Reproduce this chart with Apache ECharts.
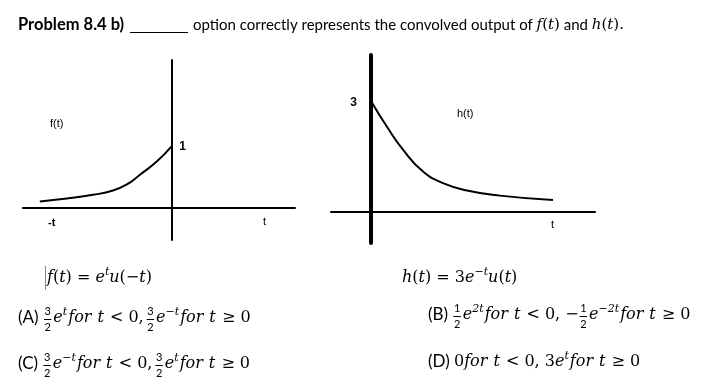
<!DOCTYPE html>
<html lang="en">
<head>
<meta charset="UTF-8">
<title>Problem 8.4 b)</title>
<script src="https://cdn.jsdelivr.net/npm/echarts@6/dist/echarts.min.js"></script>
<style>
  html, body { margin: 0; padding: 0; background: #fff; }
  #chart { width: 713px; height: 383px; }
</style>
</head>
<body>
<div id="chart"></div>
<script>
// f(t) = e^t u(-t)
const fT = [-5.32, -4.23, -3.17, -2.36, -1.8, -1.27, -0.58, 0]
const fV = [0.1, 0.15, 0.21, 0.28, 0.38, 0.54, 0.76, 1.0]
// h(t) = 3e^-t u(t)
const hT = [0, 0.4, 0.8, 1.3, 1.8, 2.4, 3.22, 4.55]
const hV = [3.0, 2.3, 1.68, 1.09, 0.78, 0.58, 0.44, 0.32]
// the only value labels on the two vertical axes
const fTicks = [1]
const hTicks = [3]

const SANS = 'Lato'
const MATH = 'DejaVu Serif'
const PLOT = 'Liberation Sans'

const ctx = document.createElement('canvas').getContext('2d')
const fontOf = p => (p.italic ? 'italic ' : '') + (p.bold ? 'bold ' : '') + p.size + 'px "' + p.family + '"'
const textW = (t, p) => { ctx.font = fontOf(p); return ctx.measureText(t).width }

const kinds = {
    s: { family: SANS, size: 15 },
    b: { family: SANS, size: 16.5, bold: true },
    o: { family: SANS, size: 17 },
    m: { family: MATH, size: 16, italic: true },
    u: { family: MATH, size: 16 },
    tm: { family: MATH, size: 15, italic: true },
    tu: { family: MATH, size: 15 },
    sup: { family: MATH, size: 11, italic: true, dy: -6 },
    fr: { family: SANS, size: 11 }
}

const txt = (x, y, text, p, extra) => ({
    type: 'text', x: x, y: y, silent: true,
    style: Object.assign({
        text: text, font: fontOf(p), fill: '#000',
        textVerticalAlign: 'middle', verticalAlign: 'middle'
    }, extra || {})
})

// lays a line of mixed text out left to right
function row(x, y, segs, out) {
    segs.forEach(seg => {
        if (seg[0] === 'frac') {
            const k = kinds.fr
            const fw = Math.max(textW(seg[1], k), textW(seg[2], k))
            out.push(txt(x + 1.5, y - 7, seg[1], k))
            out.push(txt(x + 1.5, y + 9, seg[2], k))
            out.push({ type: 'line', silent: true,
                shape: { x1: x + 1, y1: y + 1.5, x2: x + fw + 2, y2: y + 1.5 },
                style: { stroke: '#000', lineWidth: 1 } })
            x += fw + 4
            return
        }
        if (seg[0] === 'gap') { x += seg[1]; return }
        const k = kinds[seg[0]]
        out.push(txt(x, y + (k.dy || 0), seg[1], k))
        x += textW(seg[1], k)
    })
}

const graphics = []
row(18, 25, [['b', 'Problem 8.4 b)']], graphics)
graphics.push({ type: 'line', silent: true, shape: { x1: 130, y1: 32.5, x2: 188, y2: 32.5 }, style: { stroke: '#000', lineWidth: 1 } })
row(193, 25, [['s', 'option correctly represents the convolved output of '],
    ['tm', 'f'], ['tu', '('], ['tm', 't'], ['tu', ')'], ['s', ' and '],
    ['tm', 'h'], ['tu', '('], ['tm', 't'], ['tu', ').']], graphics)

// text cursor left in the source
graphics.push({ type: 'line', silent: true, shape: { x1: 45.5, y1: 266, x2: 45.5, y2: 290 }, style: { stroke: '#888', lineWidth: 1 } })
row(47, 278, [['m', 'f'], ['u', '('], ['m', 't'], ['u', ') = '], ['m', 'e'], ['sup', 't'],
    ['m', 'u'], ['u', '(−'], ['m', 't'], ['u', ')']], graphics)
row(402, 278, [['m', 'h'], ['u', '('], ['m', 't'], ['u', ') = 3'], ['m', 'e'], ['sup', '−t'],
    ['m', 'u'], ['u', '('], ['m', 't'], ['u', ')']], graphics)

const ft = [['gap', 1], ['m', 'for'], ['gap', 6], ['m', 't'], ['gap', 1]]
const lt = [['u', ' < 0,'], ['gap', 2]]
const ge = [['u', ' ≥ 0']]
row(18, 318, [['o', '(A) '], ['frac', '3', '2'], ['m', 'e'], ['sup', 't'], ...ft, ...lt,
    ['frac', '3', '2'], ['m', 'e'], ['sup', '−t'], ...ft, ...ge], graphics)
row(428, 315, [['o', '(B) '], ['frac', '1', '2'], ['m', 'e'], ['sup', '2t'], ...ft, ['u', ' < 0, −'],
    ['frac', '1', '2'], ['m', 'e'], ['sup', '−2t'], ...ft, ...ge], graphics)
row(18, 364, [['o', '(C) '], ['frac', '3', '2'], ['m', 'e'], ['sup', '−t'], ...ft, ...lt,
    ['frac', '3', '2'], ['m', 'e'], ['sup', 't'], ...ft, ...ge], graphics)
row(428, 362, [['o', '(D) '], ['u', '0'], ['m', 'for'], ['gap', 6], ['m', 't'], ['gap', 1], ['u', ' < 0, 3'], ['m', 'e'], ['sup', 't'],
    ...ft, ...ge], graphics)

// sketch labels
const lab = { family: PLOT, size: 11 }
graphics.push(txt(50, 124, 'f(t)', lab))
graphics.push(txt(48, 223, '-t', { family: PLOT, size: 11, bold: true }))
graphics.push(txt(263, 222, 't', lab))
graphics.push(txt(457, 114, 'h(t)', lab))
graphics.push(txt(551, 225, 't', lab))

const chart = echarts.init(document.getElementById('chart'), null, { renderer: 'canvas' })

const bareX = (min, max, idx, w) => ({
    type: 'value', gridIndex: idx, min: min, max: max,
    axisLine: { show: true, onZero: true, lineStyle: { color: '#000', width: w } },
    axisTick: { show: false }, axisLabel: { show: false }, splitLine: { show: false }
})
const bareY = (min, max, idx, w) => ({
    type: 'value', gridIndex: idx, min: min, max: max,
    axisLine: { show: true, onZero: true, lineStyle: { color: '#000', width: w } },
    axisTick: { show: false }, axisLabel: { show: false }, splitLine: { show: false }
})

chart.setOption({
    animation: false,
    grid: [
        { left: 23, top: 60, width: 272, height: 180 },
        { left: 331, top: 55, width: 264, height: 188 }
    ],
    xAxis: [bareX(-6, 5, 0, 2), bareX(-1, 5.6, 1, 2)],
    yAxis: [bareY(-0.53, 2.42, 0, 2), bareY(-0.84, 4.24, 1, 4)],
    series: [
        { type: 'line', xAxisIndex: 0, yAxisIndex: 0, smooth: true, showSymbol: false,
          lineStyle: { color: '#000', width: 2 }, data: fT.map((t, i) => [t, fV[i]]) },
        { type: 'line', xAxisIndex: 1, yAxisIndex: 1, smooth: true, showSymbol: false,
          lineStyle: { color: '#000', width: 2 }, data: hT.map((t, i) => [t, hV[i]]) }
    ]
})

// value labels sit beside the vertical axes, where the sketch puts them
const tickFont = { family: PLOT, size: 12, bold: true }
fTicks.forEach(v => {
    const p = chart.convertToPixel({ gridIndex: 0 }, [0, v])
    graphics.push(txt(p[0] + 8, p[1], String(v), tickFont))
})
hTicks.forEach(v => {
    const p = chart.convertToPixel({ gridIndex: 1 }, [0, v])
    graphics.push(txt(p[0] - 14, p[1] + 2, String(v), tickFont, { textAlign: 'right', align: 'right' }))
})
chart.setOption({ graphic: { elements: graphics } })
</script>
</body>
</html>
